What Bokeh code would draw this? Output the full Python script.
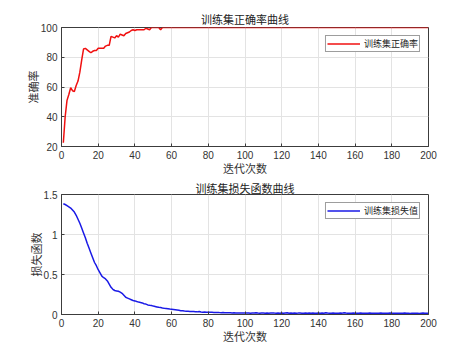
from bokeh.plotting import figure
from bokeh.layouts import column
from bokeh.models import Range1d, FixedTicker, Legend, LegendItem
from bokeh.embed import file_html
from bokeh.resources import INLINE

# ---------------- data ----------------
epochs = list(range(1, 201))

accuracy = [
    22.5, 40, 51, 55, 59.5, 57.5, 57, 61, 64, 70,
    78, 85.5, 86, 85, 84, 83, 84, 84.5, 84.5, 86,
    86, 86, 86, 87.5, 88, 88, 94, 93.5, 93, 94.5,
    93.5, 95.5, 95, 94.5, 96, 96.5, 97, 98, 98.5, 98,
    98.5, 98.5, 98.5, 98.5, 98.5, 99.5, 99, 98.5, 100, 100,
    100, 100, 100, 98.5, 100,
    100, 100, 100, 100, 100, 100, 100, 100, 100, 100, 100, 100, 100, 100, 100, 100, 100, 100, 100, 100,
    100, 100, 100, 100, 100, 100, 100, 100, 100, 100, 100, 100, 100, 100, 100, 100, 100, 100, 100, 100,
    100, 100, 100, 100, 100, 100, 100, 100, 100, 100, 100, 100, 100, 100, 100, 100, 100, 100, 100, 100,
    100, 100, 100, 100, 100, 100, 100, 100, 100, 100, 100, 100, 100, 100, 100, 100, 100, 100, 100, 100,
    100, 100, 100, 100, 100, 100, 100, 100, 100, 100, 100, 100, 100, 100, 100, 100, 100, 100, 100, 100,
    100, 100, 100, 100, 100, 100, 100, 100, 100, 100, 100, 100, 100, 100, 100, 100, 100, 100, 100, 100,
    100, 100, 100, 100, 100, 100, 100, 100, 100, 100, 100, 100, 100, 100, 100, 100, 100, 100, 100, 100,
    100, 100, 100, 100, 100,
]

loss = [
    1.385, 1.375, 1.36, 1.345, 1.33, 1.305, 1.28, 1.24, 1.19, 1.14,
    1.08, 1.02, 0.96, 0.89, 0.83, 0.77, 0.71, 0.65, 0.61, 0.56,
    0.52, 0.48, 0.46, 0.445, 0.42, 0.38, 0.34, 0.315, 0.30, 0.295,
    0.29, 0.28, 0.265, 0.24, 0.215, 0.205, 0.195, 0.185, 0.175, 0.17,
    0.162, 0.155, 0.15, 0.145, 0.135, 0.13, 0.12, 0.115, 0.112, 0.105,
    0.1, 0.095, 0.09, 0.087, 0.082, 0.078, 0.075, 0.072, 0.068, 0.066,
    0.063, 0.06, 0.056, 0.052, 0.048, 0.046, 0.043, 0.041, 0.04, 0.038,
    0.037, 0.036, 0.034, 0.033, 0.038, 0.031, 0.028, 0.03, 0.029, 0.028,
    0.027, 0.027, 0.026, 0.025, 0.026, 0.024, 0.023, 0.024, 0.022, 0.022,
    0.021, 0.022, 0.02, 0.021, 0.02, 0.019, 0.02, 0.019, 0.018, 0.02,
    0.018, 0.02, 0.017, 0.019, 0.018, 0.021, 0.018, 0.017, 0.019, 0.018,
    0.017, 0.019, 0.016, 0.018, 0.02, 0.018, 0.017, 0.019, 0.017, 0.018,
    0.016, 0.019, 0.021, 0.017, 0.018, 0.016, 0.019, 0.017, 0.018, 0.02,
    0.017, 0.016, 0.018, 0.017, 0.019, 0.016, 0.018, 0.017, 0.016, 0.018,
    0.017, 0.019, 0.016, 0.021, 0.018, 0.016, 0.017, 0.019, 0.016, 0.017,
    0.016, 0.018, 0.017, 0.022, 0.018, 0.016, 0.017, 0.016, 0.018, 0.015,
    0.017, 0.016, 0.018, 0.016, 0.015, 0.017, 0.016, 0.018, 0.016, 0.015,
    0.017, 0.016, 0.015, 0.018, 0.016, 0.017, 0.015, 0.016, 0.018, 0.016,
    0.015, 0.017, 0.016, 0.015, 0.017, 0.016, 0.018, 0.015, 0.016, 0.014,
    0.016, 0.015, 0.017, 0.015, 0.013, 0.016, 0.018, 0.015, 0.016, 0.015,
]

x_ticks = [0, 20, 40, 60, 80, 100, 120, 140, 160, 180, 200]
acc_ticks = [20, 40, 60, 80, 100]
acc_tick_labels = ["20", "40", "60", "80", "100"]
loss_ticks = [0, 0.5, 1, 1.5]
loss_tick_labels = ["0", "0.5", "1", "1.5"]

acc_title = "训练集正确率曲线"
loss_title = "训练集损失函数曲线"
acc_ylabel = "准确率"
loss_ylabel = "损失函数"
xlabel = "迭代次数"
acc_legend = "训练集正确率"
loss_legend = "训练集损失值"

CJK = "Noto Sans CJK SC"
NUM = "Liberation Sans"
AX = "#3c3c3c"
TXT = "#333333"
FW = 367


def make_fig(title, ylabel, yr, yticks, ylabels, fh, bt, bb, tstand):
    p = figure(
        width=466, frame_width=FW, frame_height=fh,
        x_range=Range1d(0, 200), y_range=Range1d(*yr),
        output_backend="svg", toolbar_location=None,
        min_border_left=61, min_border_right=38,
        min_border_top=bt, min_border_bottom=bb,
        background_fill_color="white", border_fill_color="white",
    )
    p.title.text = title
    p.title.align = "center"
    p.title.text_font = CJK
    p.title.text_font_size = "11px"
    p.title.text_font_style = "normal"
    p.title.text_color = "#222222"
    p.title.standoff = tstand
    p.outline_line_color = AX
    p.outline_line_width = 1
    p.outline_line_alpha = 1
    for ax in (p.xaxis[0], p.yaxis[0]):
        ax.axis_line_color = AX
        ax.major_tick_line_color = AX
        ax.major_tick_in = 3
        ax.major_tick_out = 0
        ax.minor_tick_line_color = None
        ax.major_label_text_font = NUM
        ax.major_label_text_font_size = "10px"
        ax.major_label_text_color = TXT
        ax.axis_label_text_font = CJK
        ax.axis_label_text_font_size = "11px"
        ax.axis_label_text_font_style = "normal"
        ax.axis_label_text_color = TXT
    p.xaxis[0].ticker = FixedTicker(ticks=x_ticks)
    p.xaxis[0].major_label_standoff = 4
    p.xaxis[0].axis_label = xlabel
    p.xaxis[0].axis_label_standoff = -2
    p.yaxis[0].ticker = FixedTicker(ticks=yticks)
    p.yaxis[0].major_label_overrides = {t: l for t, l in zip(yticks, ylabels)}
    p.yaxis[0].major_label_standoff = 4
    p.yaxis[0].axis_label = ylabel
    p.yaxis[0].axis_label_standoff = -3
    p.xgrid.grid_line_color = "#e3e3e3"
    p.ygrid.grid_line_color = "#e3e3e3"
    p.xgrid.ticker = FixedTicker(ticks=x_ticks)
    p.ygrid.ticker = FixedTicker(ticks=yticks)
    return p


p1 = make_fig(acc_title, acc_ylabel, (20, 100), acc_ticks, acc_tick_labels, 119, 27, 0, 1)
r1 = p1.line(epochs, accuracy, line_color="#f01010", line_width=1.5)

p2 = make_fig(loss_title, loss_ylabel, (0, 1.5), loss_ticks, loss_tick_labels, 120, 0, 32, -2)
r2 = p2.line(epochs, loss, line_color="#1a1ae6", line_width=1.5)

for p, r, lab in ((p1, r1, acc_legend), (p2, r2, loss_legend)):
    lg = Legend(items=[LegendItem(label=lab, renderers=[r])], location="top_right")
    lg.margin = 8
    lg.padding = 1
    lg.spacing = 0
    lg.glyph_width = 33
    lg.glyph_height = 9
    lg.label_height = 9
    lg.label_standoff = 4
    lg.label_text_font = CJK
    lg.label_text_font_size = "9px"
    lg.label_text_color = "#222222"
    lg.border_line_color = AX
    lg.border_line_width = 1
    lg.background_fill_color = "white"
    lg.background_fill_alpha = 1
    p.add_layout(lg, "center")

layout = column(p1, p2, spacing=0)
open("out.html", "w").write(file_html(layout, INLINE))
